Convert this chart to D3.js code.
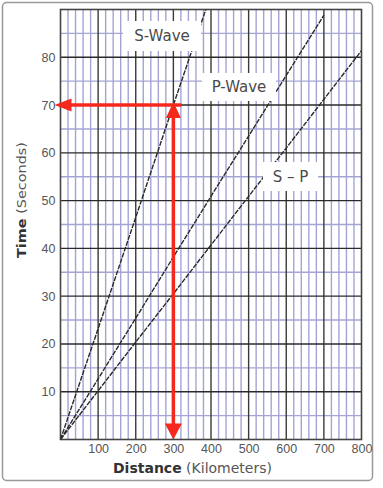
<!DOCTYPE html>
<html lang="en">
<head>
  <meta charset="UTF-8">
  <title>Travel Time Curves</title>
  <script src="https://d3js.org/d3.v7.min.js"></script>
  <style>
    body, html { margin: 0; padding: 0; background: #fff; }
    svg { display: block; font-family: "DejaVu Sans", Verdana, sans-serif; }
    .tick-label { fill: #555; font-size: 12.5px; }
    .curve { fill: none; stroke: #2a2a2a; stroke-width: 1.4px; stroke-dasharray: 5,1.2; }
    .wave-label { fill: #4a4a4a; font-size: 15px; }
  </style>
</head>
<body>
  <svg id="chart" width="383" height="488"></svg>

  <script>
    // values
    const distances = [0, 100, 200, 300, 400, 500, 600, 700, 800];
    const sWave = [0, 23.2, 46.5, 70, 93.2];
    const pWave = [0, 12.7, 25.4, 38.2, 50.9, 63.5, 76.2, 88.8];
    const sMinusP = [0, 10.2, 20.4, 30.5, 40.7, 50.9, 61, 71.2, 81.4];
    const xTicks = [100, 200, 300, 400, 500, 600, 700, 800];
    const yTicks = [10, 20, 30, 40, 50, 60, 70, 80];
    const reading = { distance: 300, time: 70 };

    const svg = d3.select("#chart");
    const x = d3.scaleLinear().domain([0, 800]).range([60.5, 361.5]);
    const y = d3.scaleLinear().domain([0, 90]).range([439.5, 9.5]);
    const red = "#f4281c";

    // outer frame
    svg.append("rect")
      .attr("x", 2.5).attr("y", 2.5).attr("width", 370).attr("height", 478)
      .attr("rx", 4).attr("fill", "#fff")
      .attr("stroke", "#999").attr("stroke-width", 1.5);

    const grid = svg.append("g");

    // minor grid (blue)
    grid.selectAll(".vminor")
      .data(d3.range(20, 800, 20).filter(d => d % 100 !== 0))
      .enter().append("line")
      .attr("x1", d => x(d)).attr("x2", d => x(d))
      .attr("y1", y(90)).attr("y2", y(0))
      .attr("stroke", "#a4a4d4").attr("stroke-width", 1.4);

    grid.selectAll(".hminor")
      .data(d3.range(5, 90, 10))
      .enter().append("line")
      .attr("x1", x(0)).attr("x2", x(800))
      .attr("y1", d => y(d)).attr("y2", d => y(d))
      .attr("stroke", "#a4a4d4").attr("stroke-width", 1.4);

    // major grid (dark)
    grid.selectAll(".vmajor")
      .data(d3.range(100, 800, 100))
      .enter().append("line")
      .attr("x1", d => x(d)).attr("x2", d => x(d))
      .attr("y1", y(90)).attr("y2", y(0))
      .attr("stroke", "#3a3a3a").attr("stroke-width", 1.4);

    grid.selectAll(".hmajor")
      .data(d3.range(10, 90, 10))
      .enter().append("line")
      .attr("x1", x(0)).attr("x2", x(800))
      .attr("y1", d => y(d)).attr("y2", d => y(d))
      .attr("stroke", "#2a2a2a").attr("stroke-width", 1.4);

    // plot border
    svg.append("rect")
      .attr("x", x(0)).attr("y", y(90))
      .attr("width", x(800) - x(0)).attr("height", y(0) - y(90))
      .attr("fill", "none").attr("stroke", "#444").attr("stroke-width", 1.6);

    // axes labels via d3 axes
    const xAxis = svg.append("g")
      .attr("transform", `translate(0,${y(0)})`)
      .call(d3.axisBottom(x).tickValues(xTicks).tickSize(0).tickPadding(5));
    const yAxis = svg.append("g")
      .attr("transform", `translate(${x(0)},0)`)
      .call(d3.axisLeft(y).tickValues(yTicks).tickSize(0).tickPadding(5));
    [xAxis, yAxis].forEach(a => {
      a.select(".domain").remove();
      a.selectAll("text").attr("class", "tick-label").attr("font-family", null).attr("font-size", null);
    });

    // travel-time curves
    svg.append("clipPath").attr("id", "plot-clip")
      .append("rect")
      .attr("x", x(0)).attr("y", y(90))
      .attr("width", x(800) - x(0)).attr("height", y(0) - y(90));

    const line = d3.line()
      .x((d, i) => x(distances[i]))
      .y(d => y(d));

    const curves = svg.append("g").attr("clip-path", "url(#plot-clip)");
    [sWave, pWave, sMinusP].forEach(series => {
      curves.append("path")
        .datum(series)
        .attr("class", "curve")
        .attr("d", line);
    });

    // label boxes (cover the grid and the curves)
    const labels = [
      { text: "S-Wave", x0: 123, x1: 201, y0: 21, y1: 51 },
      { text: "P-Wave", x0: 202, x1: 276, y0: 73, y1: 101 },
      { text: "S \u2013 P", x0: 263, x1: 318, y0: 162, y1: 191 }
    ];
    labels.forEach(l => {
      svg.append("rect")
        .attr("x", l.x0).attr("y", l.y0)
        .attr("width", l.x1 - l.x0).attr("height", l.y1 - l.y0)
        .attr("fill", "#fff");
      svg.append("text")
        .attr("class", "wave-label")
        .attr("x", (l.x0 + l.x1) / 2)
        .attr("y", (l.y0 + l.y1) / 2)
        .attr("text-anchor", "middle")
        .attr("dominant-baseline", "central")
        .text(l.text);
    });

    // red reading arrows
    const rx = x(reading.distance), ry = y(reading.time);
    svg.append("line")
      .attr("x1", rx).attr("x2", rx)
      .attr("y1", ry + 10).attr("y2", y(0) - 12)
      .attr("stroke", red).attr("stroke-width", 3.5);
    svg.append("line")
      .attr("x1", rx + 8).attr("x2", x(0) + 8)
      .attr("y1", ry).attr("y2", ry)
      .attr("stroke", red).attr("stroke-width", 3.5);

    const head = (tipX, tipY, dir, len, half) => {
      // dir points toward the tip
      const bx = tipX - dir[0] * len, by = tipY - dir[1] * len;
      const px = -dir[1], py = dir[0];
      return `M${tipX},${tipY}L${bx + px * half},${by + py * half}L${bx - px * half},${by - py * half}Z`;
    };
    svg.append("path").attr("d", head(rx, y(0), [0, 1], 16, 8.5)).attr("fill", red);
    svg.append("path").attr("d", head(rx, ry - 3, [0, -1], 16, 7.5)).attr("fill", red);
    svg.append("path").attr("d", head(x(0) - 6, ry, [-1, 0], 17, 6.5)).attr("fill", red);

    // axis titles
    const xt = svg.append("text")
      .attr("x", 113).attr("y", 468)
      .attr("dominant-baseline", "central")
      .attr("font-size", 14).attr("fill", "#333");
    xt.append("tspan").attr("font-weight", "bold").text("Distance");
    xt.append("tspan").attr("fill", "#555").text(" (Kilometers)");

    const yt = svg.append("text")
      .attr("transform", "translate(22,258) rotate(-90)")
      .attr("dominant-baseline", "central")
      .attr("font-size", 12).attr("fill", "#333")
      .attr("textLength", 116).attr("lengthAdjust", "spacingAndGlyphs");
    yt.append("tspan").attr("font-weight", "bold").text("Time");
    yt.append("tspan").attr("fill", "#555").text(" (Seconds)");
  </script>
</body>
</html>
